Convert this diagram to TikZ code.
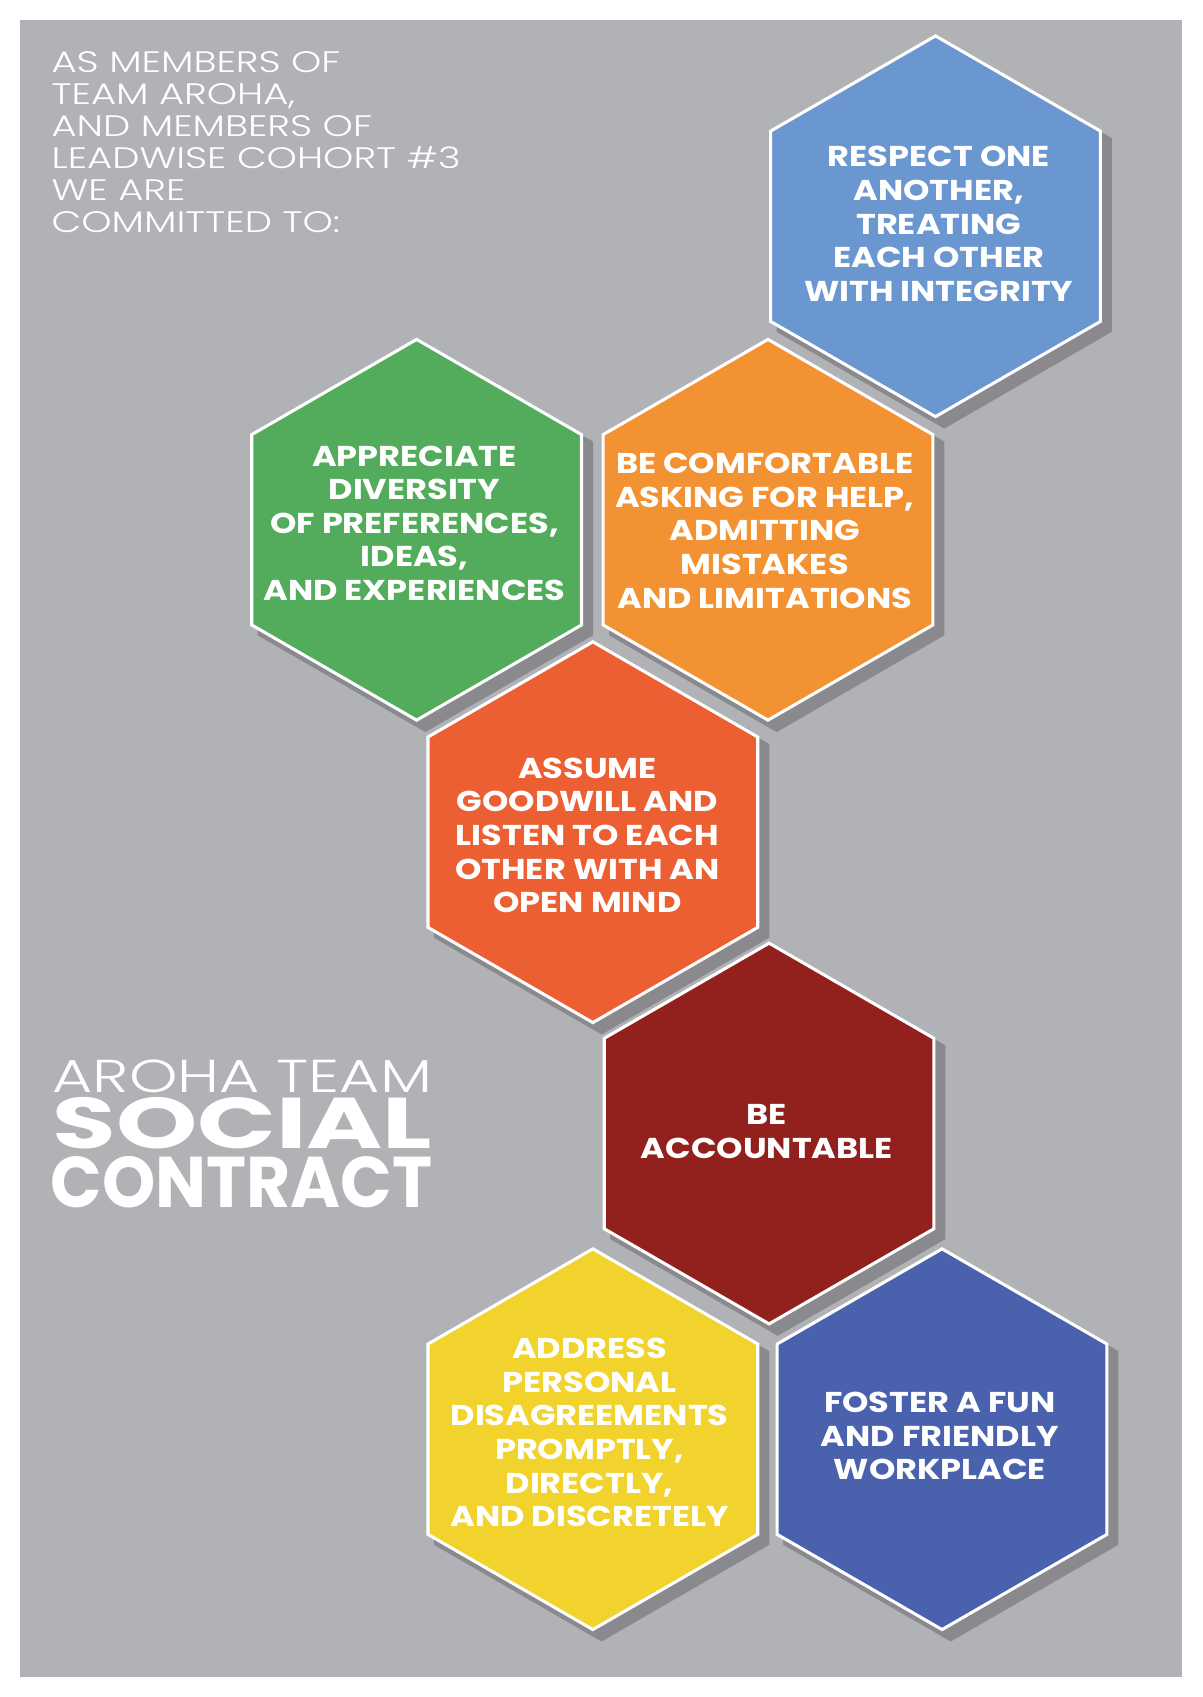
\documentclass[tikz,border=0pt]{standalone}
\usepackage{fontspec}
\usetikzlibrary{calc}
\setmainfont{Poppins}[BoldFont={Poppins Bold}]
\newfontfamily\lightf{Poppins Light}
\begin{document}
\begin{tikzpicture}[x=0.02cm,y=-0.02cm,
  hextext/.style={text=white,font=\bfseries\fontsize{15}{17.6}\selectfont,align=center,inner sep=0pt,xscale=1.17,transform shape}]
\definecolor{bg}{HTML}{B1B2B6}
\definecolor{cblue}{HTML}{6B97D0}
\definecolor{cgreen}{HTML}{53AC5B}
\definecolor{corange}{HTML}{F29232}
\definecolor{cred}{HTML}{EB5F33}
\definecolor{cdark}{HTML}{92211E}
\definecolor{cyellow}{HTML}{F2D22C}
\definecolor{cindigo}{HTML}{4A62AD}
\useasboundingbox[fill=white] (0,0) rectangle (1105,1560);
\fill[bg] (18,18) rectangle (1087,1542);
\newcommand{\hexa}[3]{%
  \fill[black,opacity=0.22] ($(#1,#2)+(8,8)$) +(90:178) -- +(30:178) -- +(-30:178) -- +(-90:178) -- +(-150:178) -- +(150:178) -- cycle;
  \filldraw[fill=#3,draw=white,line width=1.6pt,line join=miter] (#1,#2) +(90:175) -- +(30:175) -- +(-30:175) -- +(-90:175) -- +(-150:175) -- +(150:175) -- cycle;}
\hexa{860}{208}{cblue}
\hexa{383}{487}{cgreen}
\hexa{706}{487}{corange}
\hexa{545}{765}{cred}
\hexa{707}{1042}{cdark}
\hexa{545}{1323}{cyellow}
\hexa{866}{1323}{cindigo}
\node[hextext] (t1) at (863,206) {RESPECT ONE\\ANOTHER,\\TREATING\\EACH OTHER\\WITH INTEGRITY};
\node[hextext] (t2) at (381,481) {APPRECIATE\\DIVERSITY\\OF PREFERENCES,\\IDEAS,\\AND EXPERIENCES};
\node[hextext] (t3) at (703,488) {BE COMFORTABLE\\ASKING FOR HELP,\\ADMITTING\\MISTAKES\\AND LIMITATIONS};
\node[hextext] (t4) at (540,768) {ASSUME\\GOODWILL AND\\LISTEN TO EACH\\OTHER WITH AN\\OPEN MIND};
\node[hextext] (t5) at (705,1040) {BE\\ACCOUNTABLE};
\node[hextext] (t6) at (542,1317) {ADDRESS\\PERSONAL\\DISAGREEMENTS\\PROMPTLY,\\DIRECTLY,\\AND DISCRETELY};
\node[hextext] (t7) at (864,1320) {FOSTER A FUN\\AND FRIENDLY\\WORKPLACE};
\node[anchor=north west,text=white,align=left,inner sep=0pt,xscale=1.3,transform shape,font=\lightf\fontsize{15.5}{16.7}\selectfont] (intro) at (47,47)
 {AS MEMBERS OF\\TEAM AROHA,\\AND MEMBERS OF\\LEADWISE COHORT \#3\\WE ARE\\COMMITTED TO:};
\node[anchor=north west,text=white,inner sep=0pt] (h1) at (48,974) {\resizebox{6.98cm}{0.6cm}{\lightf AROHA TEAM}};
\node[anchor=north west,text=white,inner sep=0pt] (h2) at (48,1008) {\resizebox{6.98cm}{0.94cm}{\bfseries SOCIAL}};
\node[anchor=north west,text=white,inner sep=0pt] (h3) at (46,1063) {\resizebox{7.02cm}{0.94cm}{\bfseries CONTRACT}};
\end{tikzpicture}
\end{document}
